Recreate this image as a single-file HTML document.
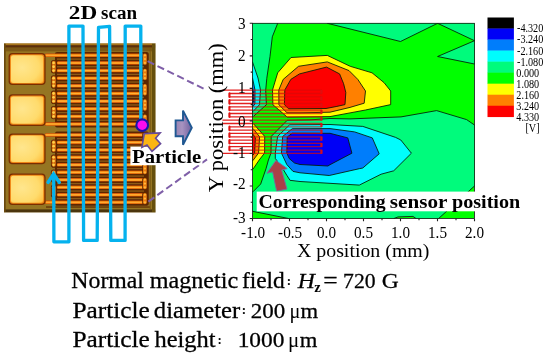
<!DOCTYPE html>
<html lang="en"><head><meta charset="utf-8"><title>2D scan figure</title>
<style>
html,body{margin:0;padding:0;background:#fff;}
body{width:550px;height:359px;overflow:hidden;}
svg{display:block;}
text{font-family:"Liberation Serif","Noto Serif CJK JP","Noto Serif CJK SC",serif;fill:#000;}
.b{font-weight:bold;}
.cp{stroke:#000;stroke-width:0.28;}
.ct{stroke:#041a04;stroke-width:0.85;stroke-linejoin:round;}
</style></head><body>
<svg width="550" height="359" viewBox="0 0 550 359">
<defs>
<radialGradient id="pad" cx="0.35" cy="0.45" r="0.85"><stop offset="0" stop-color="#ffe68e"/><stop offset="0.62" stop-color="#ffdb6c"/><stop offset="0.9" stop-color="#ffc244"/><stop offset="1" stop-color="#f8a028"/></radialGradient>
<linearGradient id="arw" x1="0" y1="0" x2="1" y2="0"><stop offset="0" stop-color="#9884b2"/><stop offset="0.4" stop-color="#a893c0"/><stop offset="1" stop-color="#6f609e"/></linearGradient>
<filter id="soft" x="-2%" y="-2%" width="104%" height="104%"><feGaussianBlur stdDeviation="0.55"/></filter>
<clipPath id="chipclip"><rect x="4" y="43.3" width="151.6" height="169.2"/></clipPath>
<clipPath id="plotclip"><rect x="252.5" y="23.3" width="222" height="195.2"/></clipPath>
</defs>
<rect x="0" y="0" width="550" height="359" fill="#ffffff"/>
<g clip-path="url(#chipclip)"><g filter="url(#soft)">
<rect x="2.0" y="41.6" width="155.5" height="172.70000000000002" fill="#957424"/>
<rect x="4" y="43.3" width="151.6" height="2" fill="#a8741e"/>
<rect x="4" y="45.2" width="151.6" height="2.5" fill="#5c2e0a"/>
<rect x="4" y="209.4" width="151.6" height="3.2" fill="#4c340c"/>
<rect x="46" y="206.3" width="104" height="1.5" fill="#6a3a08"/>
<rect x="5.7" y="47.7" width="146.3" height="3.6" fill="#7c5812"/>
<rect x="152" y="43.3" width="3.6" height="169.2" fill="#66500f"/>
<rect x="4" y="43.3" width="1.7" height="169.2" fill="#6a4a0c"/>
<rect x="149.6" y="48" width="1.2" height="161" fill="#7a5a12"/>
<rect x="55" y="51.90" width="93.8" height="75.56" rx="2" fill="#5c2604"/>
<rect x="57" y="58.47" width="87" height="1.3" fill="#8e5a16"/>
<rect x="57" y="66.11" width="87" height="1.3" fill="#8e5a16"/>
<rect x="57" y="73.75" width="87" height="1.3" fill="#8e5a16"/>
<rect x="57" y="81.39" width="87" height="1.3" fill="#8e5a16"/>
<rect x="57" y="89.03" width="87" height="1.3" fill="#8e5a16"/>
<rect x="57" y="96.67" width="87" height="1.3" fill="#8e5a16"/>
<rect x="57" y="104.31" width="87" height="1.3" fill="#8e5a16"/>
<rect x="57" y="111.95" width="87" height="1.3" fill="#8e5a16"/>
<rect x="57" y="119.59" width="87" height="1.3" fill="#8e5a16"/>
<rect x="44.5" y="53.55" width="101.1" height="3.5" rx="1.7" fill="#cc4e04"/>
<rect x="45.1" y="54.15" width="99.89999999999999" height="2.3" rx="1.1" fill="#fb8e14"/>
<rect x="45.7" y="54.75" width="98.69999999999999" height="1.1" rx="0.5" fill="#ffb236"/>
<rect x="56.5" y="61.19" width="89.1" height="3.5" rx="1.7" fill="#cc4e04"/>
<rect x="57.1" y="61.79" width="87.89999999999999" height="2.3" rx="1.1" fill="#fb8e14"/>
<rect x="57.7" y="62.39" width="86.69999999999999" height="1.1" rx="0.5" fill="#ffb236"/>
<rect x="56.5" y="68.83" width="89.1" height="3.5" rx="1.7" fill="#cc4e04"/>
<rect x="57.1" y="69.43" width="87.89999999999999" height="2.3" rx="1.1" fill="#fb8e14"/>
<rect x="57.7" y="70.03" width="86.69999999999999" height="1.1" rx="0.5" fill="#ffb236"/>
<rect x="56.5" y="76.47" width="89.1" height="3.5" rx="1.7" fill="#cc4e04"/>
<rect x="57.1" y="77.07" width="87.89999999999999" height="2.3" rx="1.1" fill="#fb8e14"/>
<rect x="57.7" y="77.67" width="86.69999999999999" height="1.1" rx="0.5" fill="#ffb236"/>
<rect x="56.5" y="84.11" width="89.1" height="3.5" rx="1.7" fill="#cc4e04"/>
<rect x="57.1" y="84.71" width="87.89999999999999" height="2.3" rx="1.1" fill="#fb8e14"/>
<rect x="57.7" y="85.31" width="86.69999999999999" height="1.1" rx="0.5" fill="#ffb236"/>
<rect x="56.5" y="91.75" width="89.1" height="3.5" rx="1.7" fill="#cc4e04"/>
<rect x="57.1" y="92.35" width="87.89999999999999" height="2.3" rx="1.1" fill="#fb8e14"/>
<rect x="57.7" y="92.95" width="86.69999999999999" height="1.1" rx="0.5" fill="#ffb236"/>
<rect x="56.5" y="99.39" width="89.1" height="3.5" rx="1.7" fill="#cc4e04"/>
<rect x="57.1" y="99.99" width="87.89999999999999" height="2.3" rx="1.1" fill="#fb8e14"/>
<rect x="57.7" y="100.59" width="86.69999999999999" height="1.1" rx="0.5" fill="#ffb236"/>
<rect x="56.5" y="107.03" width="89.1" height="3.5" rx="1.7" fill="#cc4e04"/>
<rect x="57.1" y="107.63" width="87.89999999999999" height="2.3" rx="1.1" fill="#fb8e14"/>
<rect x="57.7" y="108.23" width="86.69999999999999" height="1.1" rx="0.5" fill="#ffb236"/>
<rect x="56.5" y="114.67" width="89.1" height="3.5" rx="1.7" fill="#cc4e04"/>
<rect x="57.1" y="115.27" width="87.89999999999999" height="2.3" rx="1.1" fill="#fb8e14"/>
<rect x="57.7" y="115.87" width="86.69999999999999" height="1.1" rx="0.5" fill="#ffb236"/>
<rect x="44.5" y="122.31" width="101.1" height="3.5" rx="1.7" fill="#cc4e04"/>
<rect x="45.1" y="122.91" width="99.89999999999999" height="2.3" rx="1.1" fill="#fb8e14"/>
<rect x="45.7" y="123.51" width="98.69999999999999" height="1.1" rx="0.5" fill="#ffb236"/>
<rect x="50.9" y="60.04" width="5.8" height="13.44" rx="2.8" fill="#5c2604"/>
<rect x="51.7" y="60.84" width="4.2" height="11.84" rx="2.1" fill="#d0660a"/>
<circle cx="53.6" cy="62.94" r="1.4" fill="#ffcf48"/>
<circle cx="53.6" cy="66.76" r="1.4" fill="#ffcf48"/>
<circle cx="53.6" cy="70.58" r="1.4" fill="#ffcf48"/>
<rect x="50.9" y="75.32" width="5.8" height="13.44" rx="2.8" fill="#5c2604"/>
<rect x="51.7" y="76.12" width="4.2" height="11.84" rx="2.1" fill="#d0660a"/>
<circle cx="53.6" cy="78.22" r="1.4" fill="#ffcf48"/>
<circle cx="53.6" cy="82.04" r="1.4" fill="#ffcf48"/>
<circle cx="53.6" cy="85.86" r="1.4" fill="#ffcf48"/>
<rect x="50.9" y="90.60" width="5.8" height="13.44" rx="2.8" fill="#5c2604"/>
<rect x="51.7" y="91.40" width="4.2" height="11.84" rx="2.1" fill="#d0660a"/>
<circle cx="53.6" cy="93.50" r="1.4" fill="#ffcf48"/>
<circle cx="53.6" cy="97.32" r="1.4" fill="#ffcf48"/>
<circle cx="53.6" cy="101.14" r="1.4" fill="#ffcf48"/>
<rect x="50.9" y="105.88" width="5.8" height="13.44" rx="2.8" fill="#5c2604"/>
<rect x="51.7" y="106.68" width="4.2" height="11.84" rx="2.1" fill="#d0660a"/>
<circle cx="53.6" cy="108.78" r="1.4" fill="#ffcf48"/>
<circle cx="53.6" cy="112.60" r="1.4" fill="#ffcf48"/>
<circle cx="53.6" cy="116.42" r="1.4" fill="#ffcf48"/>
<rect x="142.2" y="52.60" width="5.4" height="13.04" rx="2.6" fill="#5c2604"/>
<rect x="143.0" y="53.40" width="3.8" height="11.44" rx="1.9" fill="#e87a0c"/>
<circle cx="144.9" cy="55.30" r="1.15" fill="#ffb83c"/>
<circle cx="144.9" cy="59.12" r="1.15" fill="#ffb83c"/>
<circle cx="144.9" cy="62.94" r="1.15" fill="#ffb83c"/>
<rect x="142.2" y="67.88" width="5.4" height="13.04" rx="2.6" fill="#5c2604"/>
<rect x="143.0" y="68.68" width="3.8" height="11.44" rx="1.9" fill="#e87a0c"/>
<circle cx="144.9" cy="70.58" r="1.15" fill="#ffb83c"/>
<circle cx="144.9" cy="74.40" r="1.15" fill="#ffb83c"/>
<circle cx="144.9" cy="78.22" r="1.15" fill="#ffb83c"/>
<rect x="142.2" y="83.16" width="5.4" height="13.04" rx="2.6" fill="#5c2604"/>
<rect x="143.0" y="83.96" width="3.8" height="11.44" rx="1.9" fill="#e87a0c"/>
<circle cx="144.9" cy="85.86" r="1.15" fill="#ffb83c"/>
<circle cx="144.9" cy="89.68" r="1.15" fill="#ffb83c"/>
<circle cx="144.9" cy="93.50" r="1.15" fill="#ffb83c"/>
<rect x="142.2" y="98.44" width="5.4" height="13.04" rx="2.6" fill="#5c2604"/>
<rect x="143.0" y="99.24" width="3.8" height="11.44" rx="1.9" fill="#e87a0c"/>
<circle cx="144.9" cy="101.14" r="1.15" fill="#ffb83c"/>
<circle cx="144.9" cy="104.96" r="1.15" fill="#ffb83c"/>
<circle cx="144.9" cy="108.78" r="1.15" fill="#ffb83c"/>
<rect x="142.2" y="113.72" width="5.4" height="13.04" rx="2.6" fill="#5c2604"/>
<rect x="143.0" y="114.52" width="3.8" height="11.44" rx="1.9" fill="#e87a0c"/>
<circle cx="144.9" cy="116.42" r="1.15" fill="#ffb83c"/>
<circle cx="144.9" cy="120.24" r="1.15" fill="#ffb83c"/>
<circle cx="144.9" cy="124.06" r="1.15" fill="#ffb83c"/>
<rect x="55" y="131.50" width="93.8" height="74.21" rx="2" fill="#5c2604"/>
<rect x="57" y="138.00" width="87" height="1.3" fill="#8e5a16"/>
<rect x="57" y="145.48" width="87" height="1.3" fill="#8e5a16"/>
<rect x="57" y="152.97" width="87" height="1.3" fill="#8e5a16"/>
<rect x="57" y="160.47" width="87" height="1.3" fill="#8e5a16"/>
<rect x="57" y="167.96" width="87" height="1.3" fill="#8e5a16"/>
<rect x="57" y="175.45" width="87" height="1.3" fill="#8e5a16"/>
<rect x="57" y="182.94" width="87" height="1.3" fill="#8e5a16"/>
<rect x="57" y="190.42" width="87" height="1.3" fill="#8e5a16"/>
<rect x="57" y="197.91" width="87" height="1.3" fill="#8e5a16"/>
<rect x="44.5" y="133.15" width="101.1" height="3.5" rx="1.7" fill="#cc4e04"/>
<rect x="45.1" y="133.75" width="99.89999999999999" height="2.3" rx="1.1" fill="#fb8e14"/>
<rect x="45.7" y="134.35" width="98.69999999999999" height="1.1" rx="0.5" fill="#ffb236"/>
<rect x="56.5" y="140.64" width="89.1" height="3.5" rx="1.7" fill="#cc4e04"/>
<rect x="57.1" y="141.24" width="87.89999999999999" height="2.3" rx="1.1" fill="#fb8e14"/>
<rect x="57.7" y="141.84" width="86.69999999999999" height="1.1" rx="0.5" fill="#ffb236"/>
<rect x="56.5" y="148.13" width="89.1" height="3.5" rx="1.7" fill="#cc4e04"/>
<rect x="57.1" y="148.73" width="87.89999999999999" height="2.3" rx="1.1" fill="#fb8e14"/>
<rect x="57.7" y="149.33" width="86.69999999999999" height="1.1" rx="0.5" fill="#ffb236"/>
<rect x="56.5" y="155.62" width="89.1" height="3.5" rx="1.7" fill="#cc4e04"/>
<rect x="57.1" y="156.22" width="87.89999999999999" height="2.3" rx="1.1" fill="#fb8e14"/>
<rect x="57.7" y="156.82" width="86.69999999999999" height="1.1" rx="0.5" fill="#ffb236"/>
<rect x="56.5" y="163.11" width="89.1" height="3.5" rx="1.7" fill="#cc4e04"/>
<rect x="57.1" y="163.71" width="87.89999999999999" height="2.3" rx="1.1" fill="#fb8e14"/>
<rect x="57.7" y="164.31" width="86.69999999999999" height="1.1" rx="0.5" fill="#ffb236"/>
<rect x="56.5" y="170.60" width="89.1" height="3.5" rx="1.7" fill="#cc4e04"/>
<rect x="57.1" y="171.20" width="87.89999999999999" height="2.3" rx="1.1" fill="#fb8e14"/>
<rect x="57.7" y="171.80" width="86.69999999999999" height="1.1" rx="0.5" fill="#ffb236"/>
<rect x="56.5" y="178.09" width="89.1" height="3.5" rx="1.7" fill="#cc4e04"/>
<rect x="57.1" y="178.69" width="87.89999999999999" height="2.3" rx="1.1" fill="#fb8e14"/>
<rect x="57.7" y="179.29" width="86.69999999999999" height="1.1" rx="0.5" fill="#ffb236"/>
<rect x="56.5" y="185.58" width="89.1" height="3.5" rx="1.7" fill="#cc4e04"/>
<rect x="57.1" y="186.18" width="87.89999999999999" height="2.3" rx="1.1" fill="#fb8e14"/>
<rect x="57.7" y="186.78" width="86.69999999999999" height="1.1" rx="0.5" fill="#ffb236"/>
<rect x="56.5" y="193.07" width="89.1" height="3.5" rx="1.7" fill="#cc4e04"/>
<rect x="57.1" y="193.67" width="87.89999999999999" height="2.3" rx="1.1" fill="#fb8e14"/>
<rect x="57.7" y="194.27" width="86.69999999999999" height="1.1" rx="0.5" fill="#ffb236"/>
<rect x="44.5" y="200.56" width="101.1" height="3.5" rx="1.7" fill="#cc4e04"/>
<rect x="45.1" y="201.16" width="99.89999999999999" height="2.3" rx="1.1" fill="#fb8e14"/>
<rect x="45.7" y="201.76" width="98.69999999999999" height="1.1" rx="0.5" fill="#ffb236"/>
<rect x="50.9" y="139.49" width="5.8" height="13.29" rx="2.8" fill="#5c2604"/>
<rect x="51.7" y="140.29" width="4.2" height="11.69" rx="2.1" fill="#d0660a"/>
<circle cx="53.6" cy="142.39" r="1.4" fill="#ffcf48"/>
<circle cx="53.6" cy="146.13" r="1.4" fill="#ffcf48"/>
<circle cx="53.6" cy="149.88" r="1.4" fill="#ffcf48"/>
<rect x="50.9" y="154.47" width="5.8" height="13.29" rx="2.8" fill="#5c2604"/>
<rect x="51.7" y="155.27" width="4.2" height="11.69" rx="2.1" fill="#d0660a"/>
<circle cx="53.6" cy="157.37" r="1.4" fill="#ffcf48"/>
<circle cx="53.6" cy="161.12" r="1.4" fill="#ffcf48"/>
<circle cx="53.6" cy="164.86" r="1.4" fill="#ffcf48"/>
<rect x="50.9" y="169.45" width="5.8" height="13.29" rx="2.8" fill="#5c2604"/>
<rect x="51.7" y="170.25" width="4.2" height="11.69" rx="2.1" fill="#d0660a"/>
<circle cx="53.6" cy="172.35" r="1.4" fill="#ffcf48"/>
<circle cx="53.6" cy="176.10" r="1.4" fill="#ffcf48"/>
<circle cx="53.6" cy="179.84" r="1.4" fill="#ffcf48"/>
<rect x="50.9" y="184.43" width="5.8" height="13.29" rx="2.8" fill="#5c2604"/>
<rect x="51.7" y="185.23" width="4.2" height="11.69" rx="2.1" fill="#d0660a"/>
<circle cx="53.6" cy="187.33" r="1.4" fill="#ffcf48"/>
<circle cx="53.6" cy="191.07" r="1.4" fill="#ffcf48"/>
<circle cx="53.6" cy="194.82" r="1.4" fill="#ffcf48"/>
<rect x="142.2" y="132.20" width="5.4" height="12.89" rx="2.6" fill="#5c2604"/>
<rect x="143.0" y="133.00" width="3.8" height="11.29" rx="1.9" fill="#e87a0c"/>
<circle cx="144.9" cy="134.90" r="1.15" fill="#ffb83c"/>
<circle cx="144.9" cy="138.65" r="1.15" fill="#ffb83c"/>
<circle cx="144.9" cy="142.39" r="1.15" fill="#ffb83c"/>
<rect x="142.2" y="147.18" width="5.4" height="12.89" rx="2.6" fill="#5c2604"/>
<rect x="143.0" y="147.98" width="3.8" height="11.29" rx="1.9" fill="#e87a0c"/>
<circle cx="144.9" cy="149.88" r="1.15" fill="#ffb83c"/>
<circle cx="144.9" cy="153.62" r="1.15" fill="#ffb83c"/>
<circle cx="144.9" cy="157.37" r="1.15" fill="#ffb83c"/>
<rect x="142.2" y="162.16" width="5.4" height="12.89" rx="2.6" fill="#5c2604"/>
<rect x="143.0" y="162.96" width="3.8" height="11.29" rx="1.9" fill="#e87a0c"/>
<circle cx="144.9" cy="164.86" r="1.15" fill="#ffb83c"/>
<circle cx="144.9" cy="168.61" r="1.15" fill="#ffb83c"/>
<circle cx="144.9" cy="172.35" r="1.15" fill="#ffb83c"/>
<rect x="142.2" y="177.14" width="5.4" height="12.89" rx="2.6" fill="#5c2604"/>
<rect x="143.0" y="177.94" width="3.8" height="11.29" rx="1.9" fill="#e87a0c"/>
<circle cx="144.9" cy="179.84" r="1.15" fill="#ffb83c"/>
<circle cx="144.9" cy="183.59" r="1.15" fill="#ffb83c"/>
<circle cx="144.9" cy="187.33" r="1.15" fill="#ffb83c"/>
<rect x="142.2" y="192.12" width="5.4" height="12.89" rx="2.6" fill="#5c2604"/>
<rect x="143.0" y="192.92" width="3.8" height="11.29" rx="1.9" fill="#e87a0c"/>
<circle cx="144.9" cy="194.82" r="1.15" fill="#ffb83c"/>
<circle cx="144.9" cy="198.56" r="1.15" fill="#ffb83c"/>
<circle cx="144.9" cy="202.31" r="1.15" fill="#ffb83c"/>
<rect x="8.6" y="53.0" width="37" height="32.1" rx="3.8" fill="#7a2e02"/>
<rect x="9.9" y="54.3" width="34.4" height="29.5" rx="3" fill="#ee8212"/>
<rect x="10.9" y="55.2" width="32.4" height="27.7" rx="2.2" fill="url(#pad)"/>
<rect x="8.6" y="94.2" width="37" height="31.8" rx="3.8" fill="#7a2e02"/>
<rect x="9.9" y="95.5" width="34.4" height="29.2" rx="3" fill="#ee8212"/>
<rect x="10.9" y="96.4" width="32.4" height="27.4" rx="2.2" fill="url(#pad)"/>
<rect x="8.6" y="133.4" width="37" height="30.9" rx="3.8" fill="#7a2e02"/>
<rect x="9.9" y="134.70000000000002" width="34.4" height="28.3" rx="3" fill="#ee8212"/>
<rect x="10.9" y="135.6" width="32.4" height="26.5" rx="2.2" fill="url(#pad)"/>
<rect x="8.6" y="173.5" width="37" height="31.5" rx="3.8" fill="#7a2e02"/>
<rect x="9.9" y="174.8" width="34.4" height="28.9" rx="3" fill="#ee8212"/>
<rect x="10.9" y="175.7" width="32.4" height="27.1" rx="2.2" fill="url(#pad)"/>
</g></g>
<polyline points="53.7,176.0 53.9,241.8 68.9,241.8 68.9,26.1 83.0,26.1 83.6,240.4 97.2,240.4 98.5,27.4 109.6,26.3 110.8,240.4 125.1,240.4 125.2,26.1 140.8,26.1 140.8,120.0" fill="none" stroke="#05b2ee" stroke-width="3.3" stroke-linejoin="round" stroke-linecap="butt"/>
<polyline points="48.1,182.4 53.6,173.9 59.3,182.4" fill="none" stroke="#05b2ee" stroke-width="3.5" stroke-linejoin="miter" stroke-linecap="round"/>
<line x1="147.6" y1="61.2" x2="206" y2="89.8" stroke="#7f5fa8" stroke-width="2" stroke-dasharray="7.3 3.7"/>
<line x1="148.4" y1="201.6" x2="207" y2="159.4" stroke="#7f5fa8" stroke-width="2" stroke-dasharray="7.3 3.7"/>
<circle cx="142.2" cy="125.2" r="5.85" fill="#fb0cf0" stroke="#1616a8" stroke-width="2.1"/>
<polygon points="175.6,120.4 183.0,120.4 183.0,110.6 191.8,127.8 183.0,144.8 183.0,136.2 175.6,136.2" fill="url(#arw)" stroke="#1f5892" stroke-width="1.9" stroke-linejoin="miter"/>
<g clip-path="url(#plotclip)">
<rect x="252.5" y="23.3" width="222.0" height="195.2" fill="#00ff00"/>
<polygon class="ct" points="250.0,20.0 277.7,20.0 277.7,23.3 272.3,36.8 270.0,56.5 266.8,78.3 265.7,90.3 266.4,104.7 253.3,116.5 250.0,116.7" fill="#00fb7c"/>
<polygon class="ct" points="480.0,129.0 474.5,125.0 466.6,119.6 436.6,110.6 401.0,116.9 350.0,118.9 330.0,118.5 310.0,119.9 287.2,120.3 271.2,136.4 271.0,153.0 268.4,160.0 266.1,168.4 260.7,184.0 253.2,191.6 250.0,191.8 250.0,210.6 252.5,211.3 288.6,218.5 288.6,222.0 394.0,222.0 394.0,218.5 398.0,216.9 413.0,216.4 416.0,218.5 416.0,222.0 438.6,222.0 438.6,218.5 474.5,186.0 480.0,181.0" fill="#00fb7c"/>
<polygon class="ct" points="327.3,23.3 327.3,20.0 437.6,20.0 437.6,23.3 400.5,41.5" fill="#00fb7c"/>
<polygon class="ct" points="437.6,23.3 437.6,20.0 480.0,20.0 480.0,43.2 474.5,40.7" fill="#00fb7c"/>
<polygon class="ct" points="474.5,40.7 480.0,38.4 480.0,65.1 474.5,64.0 437.6,56.5" fill="#00fb7c"/>
<polygon class="ct" points="250.0,62.0 252.5,62.0 258.0,78.0 260.5,90.0 259.5,104.7 253.0,111.5 250.0,111.5" fill="#00fdfd"/>
<polygon class="ct" points="275.3,153.0 275.3,158.4 283.0,169.0 286.8,175.3 290.0,180.3 300.0,181.5 359.3,185.1 381.1,174.2 393.7,170.8 411.4,153.2 400.8,140.0 395.6,137.4 362.8,126.4 330.0,124.5 289.7,124.8 277.6,136.4" fill="#00fdfd"/>
<polygon class="ct" points="250.0,78.0 252.5,78.0 255.0,90.0 254.9,104.0 252.5,107.0 250.0,107.0" fill="#007dfb"/>
<polygon class="ct" points="281.4,153.0 286.8,164.5 293.0,171.4 300.0,172.8 329.2,175.5 359.3,168.7 362.8,168.0 379.2,153.8 372.3,137.9 354.6,131.9 330.0,128.6 292.3,128.7 282.7,136.4" fill="#007dfb"/>
<polygon class="ct" points="250.0,88.0 252.5,88.0 253.6,93.0 253.6,101.0 252.5,104.0 250.0,104.0" fill="#0000f6"/>
<polygon class="ct" points="286.8,153.0 289.1,158.4 294.5,163.0 300.0,164.5 327.9,166.0 330.0,164.7 351.9,153.2 347.8,137.9 330.0,133.3 292.3,133.2 287.2,137.0" fill="#0000f6"/>
<polygon class="ct" points="272.9,104.7 272.5,90.0 277.7,72.8 291.0,57.5 327.3,55.4 350.2,66.3 372.0,72.8 384.0,82.6 390.7,91.0 390.7,104.6 365.5,110.0 350.0,112.9 330.0,116.6 290.0,117.1 287.2,117.1" fill="#ffff00"/>
<polygon class="ct" points="250.0,123.5 253.2,123.5 264.7,136.4 264.6,153.0 259.2,160.0 253.0,169.1 250.0,169.1" fill="#ffff00"/>
<polygon class="ct" points="278.9,104.7 278.8,90.0 283.2,79.4 298.5,66.3 327.3,61.9 349.0,70.6 357.8,79.4 365.5,91.0 364.2,103.2 350.0,107.4 330.0,112.2 300.0,112.9 287.1,112.9" fill="#ff8000"/>
<polygon class="ct" points="250.0,128.7 253.2,128.7 259.6,136.8 258.6,153.0 252.8,160.7 250.0,160.7" fill="#ff8000"/>
<polygon class="ct" points="284.4,104.7 284.8,90.0 290.8,79.4 299.5,73.9 326.5,67.1 339.6,73.9 343.6,83.7 345.8,92.5 345.0,104.6 336.9,106.4 326.0,108.5 288.7,108.8" fill="#fd0000"/>
<polygon class="ct" points="250.0,134.4 253.2,134.4 255.4,138.0 254.6,153.0 252.8,155.3 250.0,155.3" fill="#fd0000"/>
</g>
<clipPath id="cl"><rect x="200" y="80" width="52.1" height="90"/></clipPath>
<clipPath id="cr"><rect x="252.1" y="80" width="100" height="90"/></clipPath>
<polyline clip-path="url(#cl)" points="222.4,90.2 321.6,90.2 321.6,93.5 229.3,93.5 229.3,96.9 321.6,96.9 321.6,100.2 229.3,100.2 229.3,103.5 321.6,103.5 321.6,106.8 229.3,106.8 229.3,110.2 321.6,110.2 321.6,113.5 229.3,113.5 229.3,116.8 321.6,116.8 321.6,120.1 222.4,120.1" fill="none" stroke="#e01414" stroke-opacity="0.95" stroke-width="1.3" stroke-linejoin="round"/>
<polyline clip-path="url(#cr)" points="222.4,90.2 321.6,90.2 321.6,93.5 229.3,93.5 229.3,96.9 321.6,96.9 321.6,100.2 229.3,100.2 229.3,103.5 321.6,103.5 321.6,106.8 229.3,106.8 229.3,110.2 321.6,110.2 321.6,113.5 229.3,113.5 229.3,116.8 321.6,116.8 321.6,120.1 222.4,120.1" fill="none" stroke="#d80808" stroke-opacity="0.72" stroke-width="1.3" stroke-linejoin="round"/>
<polyline clip-path="url(#cl)" points="222.4,123.5 321.6,123.5 321.6,126.8 229.3,126.8 229.3,130.1 321.6,130.1 321.6,133.4 229.3,133.4 229.3,136.8 321.6,136.8 321.6,140.1 229.3,140.1 229.3,143.4 321.6,143.4 321.6,146.7 229.3,146.7 229.3,150.1 321.6,150.1 321.6,153.4 222.4,153.4" fill="none" stroke="#e01414" stroke-opacity="0.95" stroke-width="1.3" stroke-linejoin="round"/>
<polyline clip-path="url(#cr)" points="222.4,123.5 321.6,123.5 321.6,126.8 229.3,126.8 229.3,130.1 321.6,130.1 321.6,133.4 229.3,133.4 229.3,136.8 321.6,136.8 321.6,140.1 229.3,140.1 229.3,143.4 321.6,143.4 321.6,146.7 229.3,146.7 229.3,150.1 321.6,150.1 321.6,153.4 222.4,153.4" fill="none" stroke="#d80808" stroke-opacity="0.72" stroke-width="1.3" stroke-linejoin="round"/>
<path d="M321.4,89.90V93.83M321.4,96.55V100.48M321.4,103.20V107.13M321.4,109.86V113.78M321.4,116.51V120.43M321.4,123.16V127.09M321.4,129.81V133.74M321.4,136.46V140.39M321.4,143.12V147.04M321.4,149.77V153.69" stroke="#e01010" stroke-opacity="0.85" stroke-width="2.2" fill="none"/>
<path d="M229.5,93.33V97.05M229.5,99.98V103.70M229.5,106.63V110.36M229.5,113.28V117.01M229.5,126.59V130.31M229.5,133.24V136.96M229.5,139.89V143.62M229.5,146.54V150.27" stroke="#e01010" stroke-opacity="0.95" stroke-width="2.0" stroke-linecap="round" fill="none"/>
<polygon points="275.9,160.6 287.2,168.6 281.6,170.0 286.9,189.0 276.7,191.2 272.6,171.9 266.9,173.2" fill="#ab4048" stroke="#7a6a9a" stroke-width="1" stroke-linejoin="miter"/>
<rect x="252.5" y="23.3" width="222.0" height="195.2" fill="none" stroke="#0a140a" stroke-width="0.8"/>
<path d="M249.7,23.30H252.5M250.7,39.57H252.5M249.7,55.83H252.5M250.7,72.10H252.5M249.7,88.37H252.5M250.7,104.63H252.5M249.7,120.90H252.5M250.7,137.17H252.5M249.7,153.43H252.5M250.7,169.70H252.5M249.7,185.97H252.5M250.7,202.23H252.5M249.7,218.50H252.5M252.50,218.5V221.3M271.00,218.5V220.3M289.50,218.5V221.3M308.00,218.5V220.3M326.50,218.5V221.3M345.00,218.5V220.3M363.50,218.5V221.3M382.00,218.5V220.3M400.50,218.5V221.3M419.00,218.5V220.3M437.50,218.5V221.3M456.00,218.5V220.3M474.50,218.5V221.3" stroke="#222" stroke-width="1.1" fill="none"/>
<rect x="256.7" y="191.6" width="267.8" height="19.7" fill="#ffffff"/>
<text transform="translate(245.6,28.6) scale(1,1.13)" font-size="15.2" text-anchor="end">3</text>
<text transform="translate(245.6,61.3) scale(1,1.13)" font-size="15.2" text-anchor="end">2</text>
<text transform="translate(245.6,93.3) scale(1,1.13)" font-size="15.2" text-anchor="end">1</text>
<text transform="translate(245.6,126.8) scale(1,1.13)" font-size="15.2" text-anchor="end">0</text>
<text transform="translate(245.6,157.7) scale(1,1.13)" font-size="15.2" text-anchor="end">-1</text>
<text transform="translate(245.6,189.4) scale(1,1.13)" font-size="15.2" text-anchor="end">-2</text>
<text transform="translate(245.6,223.2) scale(1,1.13)" font-size="15.2" text-anchor="end">-3</text>
<text transform="translate(253.1,237.7) scale(1,1.13)" font-size="15.2" text-anchor="middle">-1.0</text>
<text transform="translate(290.1,237.7) scale(1,1.13)" font-size="15.2" text-anchor="middle">-0.5</text>
<text transform="translate(326.5,237.7) scale(1,1.13)" font-size="15.2" text-anchor="middle">0.0</text>
<text transform="translate(363.5,237.7) scale(1,1.13)" font-size="15.2" text-anchor="middle">0.5</text>
<text transform="translate(400.5,237.7) scale(1,1.13)" font-size="15.2" text-anchor="middle">1.0</text>
<text transform="translate(437.5,237.7) scale(1,1.13)" font-size="15.2" text-anchor="middle">1.5</text>
<text transform="translate(474.5,237.7) scale(1,1.13)" font-size="15.2" text-anchor="middle">2.0</text>
<text x="363.2" y="257.0" font-size="19.6" text-anchor="middle" textLength="132.5" lengthAdjust="spacingAndGlyphs">X position (mm)</text>
<text transform="translate(222.7,117.7) rotate(-90)" x="0" y="0" font-size="20" text-anchor="middle" textLength="149" lengthAdjust="spacingAndGlyphs">Y position (mm)</text>
<rect x="487.5" y="17.50" width="26.4" height="11.33" fill="#000000"/>
<rect x="487.5" y="28.53" width="26.4" height="11.33" fill="#0000f6"/>
<rect x="487.5" y="39.56" width="26.4" height="11.33" fill="#007dfb"/>
<rect x="487.5" y="50.59" width="26.4" height="11.33" fill="#00fdfd"/>
<rect x="487.5" y="61.62" width="26.4" height="11.33" fill="#00fb7c"/>
<rect x="487.5" y="72.65" width="26.4" height="11.33" fill="#00ff00"/>
<rect x="487.5" y="83.68" width="26.4" height="11.33" fill="#ffff00"/>
<rect x="487.5" y="94.71" width="26.4" height="11.33" fill="#ff8000"/>
<rect x="487.5" y="105.74" width="26.4" height="11.33" fill="#fd0000"/>
<text transform="translate(517.0,32.3) scale(1,1.12)" font-size="10.2">-4.320</text>
<text transform="translate(517.0,43.4) scale(1,1.12)" font-size="10.2">-3.240</text>
<text transform="translate(517.0,54.5) scale(1,1.12)" font-size="10.2">-2.160</text>
<text transform="translate(517.0,65.5) scale(1,1.12)" font-size="10.2">-1.080</text>
<text transform="translate(516.3,76.6) scale(1,1.12)" font-size="10.2">0.000</text>
<text transform="translate(516.3,87.7) scale(1,1.12)" font-size="10.2">1.080</text>
<text transform="translate(516.3,98.8) scale(1,1.12)" font-size="10.2">2.160</text>
<text transform="translate(516.3,109.9) scale(1,1.12)" font-size="10.2">3.240</text>
<text transform="translate(516.3,120.9) scale(1,1.12)" font-size="10.2">4.330</text>
<text transform="translate(525.4,131.8) scale(1,1.12)" font-size="10.2">[V]</text>
<text class="b" x="68.81" y="19.3" font-size="18.2" textLength="28.34" lengthAdjust="spacingAndGlyphs">2D</text>
<text class="b" x="101.13" y="19.3" font-size="18.2" textLength="36.04" lengthAdjust="spacingAndGlyphs">scan</text>
<rect x="130.4" y="146.6" width="72" height="18.6" fill="#ffffff"/>
<text class="b" x="132.04" y="163.3" font-size="19.4" textLength="69.21" lengthAdjust="spacingAndGlyphs">Particle</text>
<polygon points="144.3,133.6 160.2,132.9 155.6,138.3 160.6,143.6 152.0,151.4 147.0,144.9 141.9,147.4" fill="#fbb514" stroke="#674a98" stroke-width="1.6" stroke-linejoin="miter"/>
<text class="b" x="258.56" y="207.6" font-size="18.5" textLength="127.14" lengthAdjust="spacingAndGlyphs">Corresponding</text>
<text class="b" x="389.87" y="207.6" font-size="18.5" textLength="57.61" lengthAdjust="spacingAndGlyphs">sensor</text>
<text class="b" x="451.95" y="207.6" font-size="18.5" textLength="68.31" lengthAdjust="spacingAndGlyphs">position</text>
<text x="71.35" y="288.2" font-size="22.8" textLength="72.62" lengthAdjust="spacingAndGlyphs" class="cp">Normal</text>
<text x="149.72" y="288.2" font-size="22.8" textLength="88.51" lengthAdjust="spacingAndGlyphs" class="cp">magnetic</text>
<text x="241.90" y="288.2" font-size="22.8" textLength="42.90" lengthAdjust="spacingAndGlyphs" class="cp">field</text>
<text class="b" x="286.75" y="284.50" font-size="13">:</text>
<text font-style="italic" x="297.84" y="288.4" font-size="22.0" textLength="17.09" lengthAdjust="spacingAndGlyphs" class="cp">H</text>
<text class="b" x="314.30" y="292.4" font-size="14.5" textLength="6.62" lengthAdjust="spacingAndGlyphs">z</text>
<text x="323.22" y="288.2" font-size="22.6" textLength="14.43" lengthAdjust="spacingAndGlyphs" class="cp">=</text>
<text x="343.09" y="288.2" font-size="21.4" textLength="32.52" lengthAdjust="spacingAndGlyphs" class="cp">720</text>
<text x="381.76" y="288.2" font-size="22" textLength="17.00" lengthAdjust="spacingAndGlyphs" class="cp">G</text>
<text x="72.50" y="317.7" font-size="22.8" textLength="77.37" lengthAdjust="spacingAndGlyphs" class="cp">Particle</text>
<text x="153.84" y="317.7" font-size="22.8" textLength="86.37" lengthAdjust="spacingAndGlyphs" class="cp">diameter</text>
<text class="b" x="241.85" y="314.00" font-size="13">:</text>
<text x="250.72" y="317.7" font-size="20.8" textLength="34.44" lengthAdjust="spacingAndGlyphs" class="cp">200</text>
<text x="289.38" y="317.7" font-size="21.5" textLength="10.85" lengthAdjust="spacingAndGlyphs">μ</text>
<text x="300.55" y="317.7" font-size="21.5" textLength="17.60" lengthAdjust="spacingAndGlyphs" class="cp">m</text>
<text x="72.50" y="347.3" font-size="22.8" textLength="77.37" lengthAdjust="spacingAndGlyphs" class="cp">Particle</text>
<text x="154.46" y="347.3" font-size="22.8" textLength="61.16" lengthAdjust="spacingAndGlyphs" class="cp">height</text>
<text class="b" x="217.45" y="343.60" font-size="13">:</text>
<text x="237.66" y="347.3" font-size="20.8" textLength="46.72" lengthAdjust="spacingAndGlyphs" class="cp">1000</text>
<text x="288.12" y="347.3" font-size="21.5" textLength="11.24" lengthAdjust="spacingAndGlyphs">μ</text>
<text x="299.75" y="347.3" font-size="21.5" textLength="17.60" lengthAdjust="spacingAndGlyphs" class="cp">m</text>
</svg></body></html>
